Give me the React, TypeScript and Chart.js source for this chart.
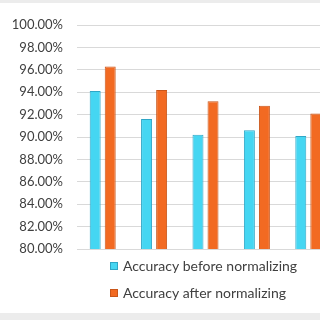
import React, { useEffect, useRef } from "react";
import { Chart, registerables } from "chart.js";

Chart.register(...registerables);

const categories = ["1", "2", "3", "4", "5"];
const beforeValues = [94.1, 91.6, 90.2, 90.6, 90.1];
const afterValues = [96.3, 94.2, 93.2, 92.8, 92.1];
const seriesNames = ["Accuracy before normalizing", "Accuracy after normalizing"];
const yMin = 80;
const yMax = 100;
const yStep = 2;

const CYAN = "#45d6f2";
const CYAN_BORDER = "#2fa6c6";
const ORANGE = "#f26a22";
const ORANGE_BORDER = "#c9561a";

const legendPlugin = {
  id: "customLegend",
  afterDraw(chart: any) {
    const ctx = chart.ctx;
    const items = [
      { text: seriesNames[0], fill: CYAN, stroke: CYAN_BORDER, y: 263 },
      { text: seriesNames[1], fill: ORANGE, stroke: ORANGE_BORDER, y: 290 },
    ];
    ctx.save();
    ctx.font = "14px Lato";
    ctx.textBaseline = "middle";
    ctx.textAlign = "left";
    for (const it of items) {
      ctx.fillStyle = it.fill;
      ctx.strokeStyle = it.stroke;
      ctx.lineWidth = 1;
      ctx.fillRect(110, it.y - 4, 8, 8);
      ctx.strokeRect(110.5, it.y - 3.5, 7, 7);
      ctx.fillStyle = "#404040";
      ctx.fillText(it.text, 123, it.y);
    }
    ctx.restore();
  },
};

export default function App() {
  const ref = useRef<HTMLCanvasElement | null>(null);
  useEffect(() => {
    if (!ref.current) return;
    const chart = new Chart(ref.current, {
      type: "bar",
      data: {
        labels: categories,
        datasets: [
          {
            label: seriesNames[0],
            data: beforeValues,
            backgroundColor: CYAN,
            borderColor: CYAN_BORDER,
            borderWidth: 1,
            categoryPercentage: 0.585,
            barPercentage: 0.73,
          },
          {
            label: seriesNames[1],
            data: afterValues,
            backgroundColor: ORANGE,
            borderColor: ORANGE_BORDER,
            borderWidth: 1,
            categoryPercentage: 0.585,
            barPercentage: 0.73,
          },
        ],
      },
      options: {
        animation: false,
        responsive: false,
        maintainAspectRatio: false,
        layout: { padding: { top: 22, bottom: 64, left: 0, right: 2 } },
        plugins: {
          legend: { display: false },
          tooltip: { enabled: false },
        },
        scales: {
          x: { display: false },
          y: {
            min: yMin,
            max: yMax,
            afterFit: (s: any) => {
              s.width = 77;
            },
            ticks: {
              stepSize: yStep,
              padding: 14,
              color: "#404040",
              font: { family: "Lato", size: 13 },
              callback: (v: any) => Number(v).toFixed(2) + "%",
            },
            grid: { color: "#d9d9d9", lineWidth: 1, drawTicks: false },
            border: { display: false },
          },
        },
      },
      plugins: [legendPlugin],
    });
    return () => chart.destroy();
  }, []);
  return (
    <div
      style={{
        position: "fixed",
        left: 0,
        top: 0,
        width: 320,
        height: 320,
        overflow: "hidden",
        background: "#ececec",
      }}
    >
      <div
        style={{
          position: "absolute",
          left: 0,
          top: 3,
          width: 320,
          height: 310,
          background: "#ffffff",
          overflow: "hidden",
        }}
      >
        <canvas ref={ref} width={336} height={310} style={{ display: "block" }} />
      </div>
    </div>
  );
}
